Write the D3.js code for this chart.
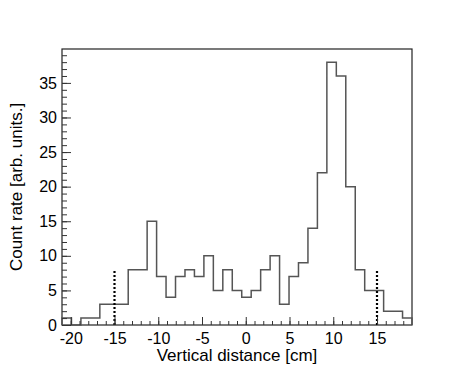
<!DOCTYPE html>
<html>
<head>
<meta charset="utf-8">
<script src="https://cdn.jsdelivr.net/npm/d3@7"></script>
<style>
  body { margin: 0; background: #fff; }
  text { font-family: "Liberation Sans", Arial, sans-serif; fill: #000; }
</style>
</head>
<body>
<div id="chart" style="width:474px;height:374px"></div>
<script>
// histogram: 37 bins from -21 to 19 cm
const binStart = -21;
const binEnd = 19;
const counts = [1, 0, 1, 1, 3, 3, 3, 8, 8, 15, 7, 4, 7, 8, 7, 10, 5, 8, 5, 4,
  5, 8, 10, 3, 7, 9, 14, 22, 38, 36, 20, 8, 5, 5, 2, 2, 1];
const cutPositions = [-15, 15];
const cutHeight = 8;
const xTicks = [-20, -15, -10, -5, 0, 5, 10, 15];
const yTicks = [0, 5, 10, 15, 20, 25, 30, 35];

const width = 474;
const height = 374;
const marginTop = 49;
const marginLeft = 62;
const marginBottom = 49;
const marginRight = 62;
const chartWidth = width - marginLeft - marginRight;
const chartHeight = height - marginTop - marginBottom;

const svg = d3.select("#chart").append("svg")
  .attr("width", width)
  .attr("height", height);

const g = svg.append("g")
  .attr("transform", `translate(${marginLeft}, ${marginTop})`);

const xScale = d3.scaleLinear().domain([binStart, binEnd]).range([0, chartWidth]);
const yScale = d3.scaleLinear().domain([0, 39.9]).range([chartHeight, 0]);

const binWidth = (binEnd - binStart) / counts.length;

// frame
g.append("rect")
  .attr("width", chartWidth)
  .attr("height", chartHeight)
  .attr("fill", "none")
  .attr("stroke", "#222")
  .attr("stroke-width", 1.2);

// histogram as a step line
const pts = [[binStart, 0]];
counts.forEach((c, i) => {
  pts.push([binStart + i * binWidth, c]);
  pts.push([binStart + (i + 1) * binWidth, c]);
});
pts.push([binEnd, 0]);

g.append("path")
  .datum(pts)
  .attr("fill", "none")
  .attr("stroke", "#555")
  .attr("stroke-width", 1.5)
  .attr("d", d3.line().x((d) => xScale(d[0])).y((d) => yScale(d[1])));

// dotted cut lines
g.selectAll(".cut")
  .data(cutPositions)
  .join("line")
  .attr("class", "cut")
  .attr("x1", (d) => xScale(d))
  .attr("x2", (d) => xScale(d))
  .attr("y1", yScale(0))
  .attr("y2", yScale(cutHeight))
  .attr("stroke", "#000")
  .attr("stroke-width", 2.2)
  .attr("stroke-dasharray", "2,2");

// axes, ticks drawn inward like ROOT
const xMinor = d3.range(-20, 19, 1);
const yMinor = d3.range(0, 40, 1);

const xMinorAxis = g.append("g")
  .attr("transform", `translate(0, ${chartHeight})`)
  .call(d3.axisBottom(xScale).tickValues(xMinor).tickSize(-4).tickFormat(""));
const xAxis = g.append("g")
  .attr("transform", `translate(0, ${chartHeight})`)
  .call(d3.axisBottom(xScale).tickValues(xTicks).tickSize(-8).tickPadding(8).tickFormat(d3.format("d")));

const yMinorAxis = g.append("g")
  .call(d3.axisLeft(yScale).tickValues(yMinor).tickSize(-5).tickFormat(""));
const yAxis = g.append("g")
  .call(d3.axisLeft(yScale).tickValues(yTicks).tickSize(-9).tickPadding(5).tickFormat(d3.format("d")));

[xMinorAxis, xAxis, yMinorAxis, yAxis].forEach((a) => {
  a.select(".domain").remove();
  a.selectAll("line").attr("stroke", "#333");
});
[xAxis, yAxis].forEach((a) => {
  a.selectAll("text").attr("font-size", 16).attr("font-family", "Liberation Sans, Arial, sans-serif").attr("fill", "#000");
});
xAxis.selectAll("text").text((d) => (d < 0 ? "-" + Math.abs(d) : d));

svg.append("text")
  .attr("x", marginLeft + chartWidth / 2)
  .attr("y", 361)
  .attr("text-anchor", "middle")
  .attr("font-size", 17)
  .text("Vertical distance [cm]");

svg.append("text")
  .attr("transform", `translate(22, ${marginTop + chartHeight / 2}) rotate(-90)`)
  .attr("text-anchor", "middle")
  .attr("font-size", 17)
  .text("Count rate [arb. units.]");
</script>
</body>
</html>
